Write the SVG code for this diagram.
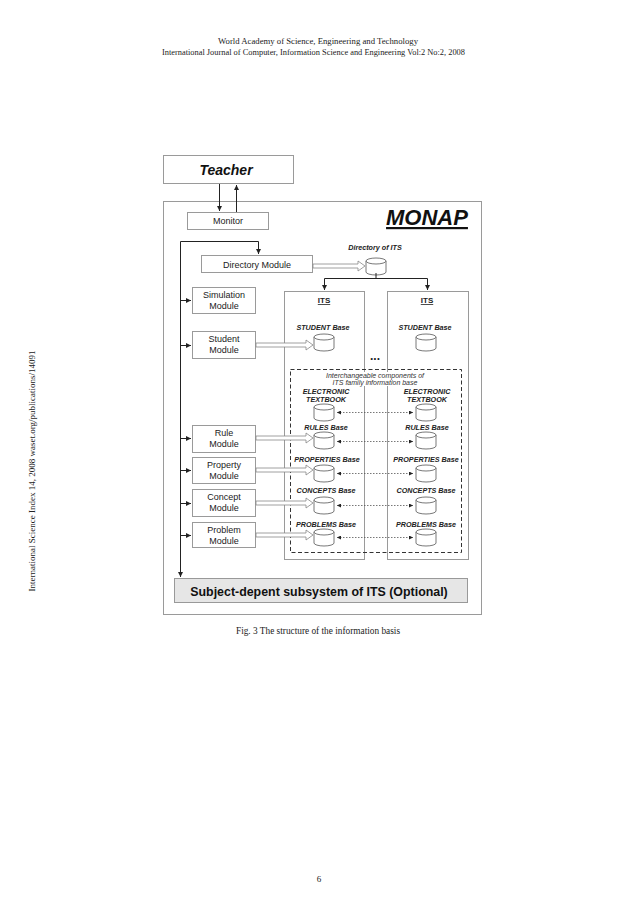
<svg xmlns="http://www.w3.org/2000/svg" width="638" height="903" viewBox="0 0 638 903">
<style>
.box{fill:#fff;stroke:#9a9a9a;stroke-width:1}
.ln{fill:none;stroke:#222;stroke-width:1}
.t{font-family:"Liberation Sans",Arial,sans-serif;font-size:9px;fill:#222;text-anchor:middle}
.bi{font-family:"Liberation Sans",Arial,sans-serif;font-size:7.2px;font-weight:bold;font-style:italic;fill:#222;text-anchor:middle}
.ti{font-family:"Liberation Serif","Times New Roman",serif;fill:#222;text-anchor:middle}
.cyl{fill:#fff;stroke:#555;stroke-width:0.8}
.hol{fill:#fff;stroke:#888;stroke-width:0.8}
.dot{fill:none;stroke:#555;stroke-width:0.8;stroke-dasharray:1.5 1.5}
.it{font-family:"Liberation Sans",Arial,sans-serif;font-size:7px;font-style:italic;fill:#333;text-anchor:middle}
</style>
<defs>
<marker id="ah" viewBox="0 0 6 6" refX="6" refY="3" markerWidth="5" markerHeight="5" orient="auto-start-reverse">
<path d="M0,0 L6,3 L0,6 z" fill="#222"/>
</marker>
<g id="cy">
<path class="cyl" d="M-10,3 L-10,14 A10,3 0 0 0 10,14 L10,3"/>
<ellipse class="cyl" cx="0" cy="3" rx="10" ry="3"/>
</g>
</defs>
<rect width="638" height="903" fill="#fff"/>

<text class="ti" x="318" y="44" font-size="9" textLength="200" lengthAdjust="spacingAndGlyphs">World Academy of Science, Engineering and Technology</text>
<text class="ti" x="313.5" y="55" font-size="9" textLength="303" lengthAdjust="spacingAndGlyphs">International Journal of Computer, Information Science and Engineering Vol:2 No:2, 2008</text>
<text class="ti" font-size="9" transform="translate(35,471) rotate(-90)">International Science Index 14, 2008 waset.org/publications/14091</text>

<g id="teacher">
<rect class="box" x="163.5" y="155.5" width="130" height="28"/>
<text x="226" y="175" font-family="Liberation Sans,Arial,sans-serif" font-size="14" font-weight="bold" font-style="italic" fill="#111" text-anchor="middle">Teacher</text>
</g>

<g id="monap">
<rect class="box" x="163.5" y="201.5" width="318" height="413"/>
<text x="427" y="225" font-family="Liberation Sans,Arial,sans-serif" font-size="22" font-weight="bold" font-style="italic" fill="#111" text-anchor="middle" text-decoration="underline">MONAP</text>
</g>

<g id="monitor">
<rect class="box" x="187.5" y="212.5" width="81" height="17"/>
<text class="t" x="228" y="224">Monitor</text>
</g>

<g id="directory-module">
<rect class="box" x="201.5" y="255.5" width="111" height="17"/>
<text class="t" x="257" y="268" font-size="9.5">Directory Module</text>
</g>

<g id="directory-its">
<text class="bi" x="375" y="250">Directory of ITS</text>
<use href="#cy" x="376" y="258"/>
</g>

<g id="its1">
<rect class="box" x="284.5" y="291.5" width="80" height="268"/>
<text x="324" y="303" font-family="Liberation Sans,Arial,sans-serif" font-size="8" font-weight="bold" fill="#222" text-anchor="middle" text-decoration="underline">ITS</text>
</g>
<g id="its2">
<rect class="box" x="387.5" y="291.5" width="81" height="268"/>
<text x="427" y="303" font-family="Liberation Sans,Arial,sans-serif" font-size="8" font-weight="bold" fill="#222" text-anchor="middle" text-decoration="underline">ITS</text>
</g>

<g id="student-base">
<text class="bi" x="323" y="330">STUDENT Base</text>
<use href="#cy" x="324" y="334"/>
<text class="bi" x="425" y="330">STUDENT Base</text>
<use href="#cy" x="426" y="334"/>
</g>
<text x="375" y="360" font-family="Liberation Sans,Arial,sans-serif" font-size="12" font-weight="bold" fill="#222" text-anchor="middle">...</text>

<g id="interchangeable">
<rect x="290.5" y="369.5" width="171" height="183" fill="none" stroke="#333" stroke-width="1" stroke-dasharray="4 2.5"/>
<rect x="328" y="372" width="94" height="14" fill="#fff"/>
<text class="it" x="375" y="378">Interchangeable components of</text>
<text class="it" x="375" y="385">ITS family information base</text>
</g>

<g id="electronic-textbook">
<text class="bi" x="326" y="394" font-size="8">ELECTRONIC</text>
<text class="bi" x="326" y="402" font-size="8">TEXTBOOK</text>
<use href="#cy" x="324" y="404"/>
<text class="bi" x="427" y="394" font-size="8">ELECTRONIC</text>
<text class="bi" x="427" y="402" font-size="8">TEXTBOOK</text>
<use href="#cy" x="426" y="404"/>
</g>
<g id="rules-base">
<text class="bi" x="326" y="430">RULES Base</text>
<use href="#cy" x="324" y="432"/>
<text class="bi" x="427" y="430">RULES Base</text>
<use href="#cy" x="426" y="432"/>
</g>
<g id="properties-base">
<text class="bi" x="327" y="462">PROPERTIES Base</text>
<use href="#cy" x="324" y="465"/>
<text class="bi" x="426" y="462">PROPERTIES Base</text>
<use href="#cy" x="426" y="465"/>
</g>
<g id="concepts-base">
<text class="bi" x="326" y="493">CONCEPTS Base</text>
<use href="#cy" x="324" y="497"/>
<text class="bi" x="426" y="493">CONCEPTS Base</text>
<use href="#cy" x="426" y="497"/>
</g>
<g id="problems-base">
<text class="bi" x="326" y="527">PROBLEMS Base</text>
<use href="#cy" x="324" y="529"/>
<text class="bi" x="426" y="527">PROBLEMS Base</text>
<use href="#cy" x="426" y="529"/>
</g>

<g id="simulation-module">
<rect class="box" x="192.5" y="287.5" width="63" height="26"/>
<text class="t" x="224" y="298">Simulation</text>
<text class="t" x="224" y="309">Module</text>
</g>
<g id="student-module">
<rect class="box" x="192.5" y="331.5" width="63" height="27"/>
<text class="t" x="224" y="342">Student</text>
<text class="t" x="224" y="353">Module</text>
</g>
<g id="rule-module">
<rect class="box" x="192.5" y="425.5" width="63" height="27"/>
<text class="t" x="224" y="436">Rule</text>
<text class="t" x="224" y="447">Module</text>
</g>
<g id="property-module">
<rect class="box" x="192.5" y="457.5" width="63" height="26"/>
<text class="t" x="224" y="468">Property</text>
<text class="t" x="224" y="479">Module</text>
</g>
<g id="concept-module">
<rect class="box" x="192.5" y="489.5" width="63" height="27"/>
<text class="t" x="224" y="500">Concept</text>
<text class="t" x="224" y="511">Module</text>
</g>
<g id="problem-module">
<rect class="box" x="192.5" y="522.5" width="63" height="25"/>
<text class="t" x="224" y="533">Problem</text>
<text class="t" x="224" y="544">Module</text>
</g>

<g id="subsystem">
<rect x="174.5" y="578.5" width="293" height="24" fill="#e6e6e6" stroke="#999"/>
<text x="319" y="595.5" font-family="Liberation Sans,Arial,sans-serif" font-size="12.4" font-weight="bold" fill="#111" text-anchor="middle">Subject-depent subsystem of ITS (Optional)</text>
</g>

<g id="connectors">
<line class="ln" x1="219.5" y1="184" x2="219.5" y2="211" marker-end="url(#ah)"/>
<line class="ln" x1="236.5" y1="212" x2="236.5" y2="185" marker-end="url(#ah)"/>
<polyline class="ln" points="258.5,254 258.5,241.5 180.5,241.5 180.5,577" marker-start="url(#ah)" marker-end="url(#ah)"/>
<line class="ln" x1="180.5" y1="300.5" x2="191" y2="300.5" marker-end="url(#ah)"/>
<line class="ln" x1="180.5" y1="345.5" x2="191" y2="345.5" marker-end="url(#ah)"/>
<line class="ln" x1="180.5" y1="438.5" x2="191" y2="438.5" marker-end="url(#ah)"/>
<line class="ln" x1="180.5" y1="470.5" x2="191" y2="470.5" marker-end="url(#ah)"/>
<line class="ln" x1="180.5" y1="503.5" x2="191" y2="503.5" marker-end="url(#ah)"/>
<line class="ln" x1="180.5" y1="535.5" x2="191" y2="535.5" marker-end="url(#ah)"/>
<polyline class="ln" points="376,273 376,278.5 324.5,278.5 324.5,290" marker-end="url(#ah)"/>
<polyline class="ln" points="376,278.5 427.5,278.5 427.5,290" marker-end="url(#ah)"/>
<path class="hol" d="M313,264 L358,264 L358,261 L365,266 L358,271 L358,268 L313,268 z"/>
<path class="hol" d="M256,343 L306,343 L306,340 L313,345 L306,350 L306,347 L256,347 z"/>
<path class="hol" d="M256,436 L306,436 L306,433 L313,438 L306,443 L306,440 L256,440 z"/>
<path class="hol" d="M256,468 L306,468 L306,465 L313,470 L306,475 L306,472 L256,472 z"/>
<path class="hol" d="M256,501 L306,501 L306,498 L313,503 L306,508 L306,505 L256,505 z"/>
<path class="hol" d="M256,533 L306,533 L306,530 L313,535 L306,540 L306,537 L256,537 z"/>
<line class="dot" x1="337" y1="412.5" x2="413" y2="412.5" marker-start="url(#ah)" marker-end="url(#ah)"/>
<line class="dot" x1="337" y1="441.5" x2="413" y2="441.5" marker-start="url(#ah)" marker-end="url(#ah)"/>
<line class="dot" x1="337" y1="473.5" x2="413" y2="473.5" marker-start="url(#ah)" marker-end="url(#ah)"/>
<line class="dot" x1="337" y1="505.5" x2="413" y2="505.5" marker-start="url(#ah)" marker-end="url(#ah)"/>
<line class="dot" x1="337" y1="537.5" x2="413" y2="537.5" marker-start="url(#ah)" marker-end="url(#ah)"/>
</g>

<text class="ti" x="318" y="634" font-size="9.3">Fig. 3 The structure of the information basis</text>
<text class="ti" x="319" y="882" font-size="9">6</text>
</svg>
